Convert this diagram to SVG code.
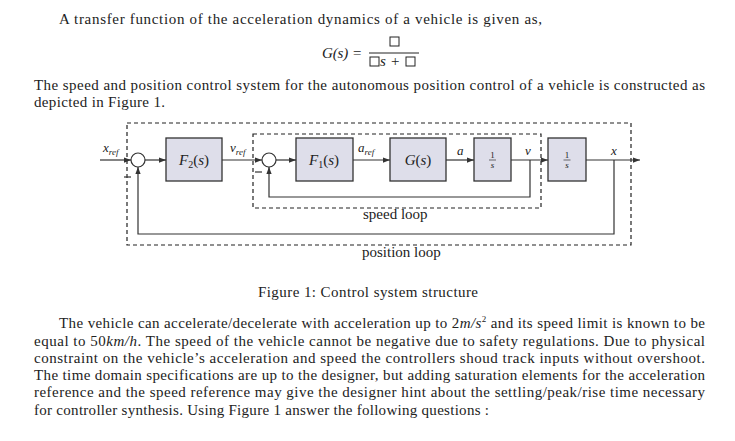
<svg xmlns="http://www.w3.org/2000/svg" width="735" height="441" viewBox="0 0 735 441">
<defs>
<style>
text{font-family:"Liberation Serif","DejaVu Serif",serif;font-size:15px;fill:#222}
.m{font-style:italic;font-size:13px}
.blk{fill:#dedeea;stroke:#333;stroke-width:1.3}
.ln{fill:none;stroke:#333;stroke-width:1.2}
.ds{fill:none;stroke:#222;stroke-width:1.2;stroke-dasharray:4,3}
.sq{fill:none;stroke:#222;stroke-width:1}
</style>
<marker id="ar" viewBox="0 0 8 6" refX="8" refY="3" markerWidth="6" markerHeight="5" orient="auto"><path d="M0,0L8,3L0,6z" fill="#333"/></marker>
</defs>
<rect width="735" height="441" fill="#fff"/>
<text x="59" y="24" textLength="483" lengthAdjust="spacing">A transfer function of the acceleration dynamics of a vehicle is given as,</text>
<text x="322" y="58" font-style="italic" textLength="40" lengthAdjust="spacing">G(s) =</text>
<rect class="sq" x="390" y="37" width="9" height="9"/>
<line x1="369" y1="53" x2="419" y2="53" stroke="#222" stroke-width="1"/>
<rect class="sq" x="370" y="57" width="9" height="9"/>
<text x="380" y="66" font-style="italic">s</text>
<text x="391" y="66">+</text>
<rect class="sq" x="406" y="57" width="9" height="9"/>
<text x="34" y="90" textLength="671" lengthAdjust="spacing">The speed and position control system for the autonomous position control of a vehicle is constructed as</text>
<text x="34" y="107" textLength="131" lengthAdjust="spacing">depicted in Figure 1.</text>
<g id="loops">
<rect class="ds" x="127" y="123" width="504" height="122"/>
<rect class="ds" x="253" y="134" width="288" height="74"/>
<text x="363" y="219">speed loop</text>
<text x="362" y="257">position loop</text>
</g>
<g id="connectors">
<line class="ln" x1="100" y1="160" x2="131" y2="160" marker-end="url(#ar)"/>
<line class="ln" x1="145" y1="160" x2="166" y2="160" marker-end="url(#ar)"/>
<line class="ln" x1="222" y1="160" x2="262" y2="160" marker-end="url(#ar)"/>
<line class="ln" x1="276" y1="160" x2="296" y2="160" marker-end="url(#ar)"/>
<line class="ln" x1="353" y1="160" x2="390" y2="160" marker-end="url(#ar)"/>
<line class="ln" x1="446" y1="160" x2="474" y2="160" marker-end="url(#ar)"/>
<line class="ln" x1="511" y1="160" x2="548" y2="160" marker-end="url(#ar)"/>
<line class="ln" x1="586" y1="160" x2="640" y2="160" marker-end="url(#ar)"/>
<polyline class="ln" points="530,160 530,197 269,197 269,167" marker-end="url(#ar)"/>
<polyline class="ln" points="614,160 614,234 138,234 138,167" marker-end="url(#ar)"/>
<line class="ln" x1="124" y1="177" x2="131" y2="177"/>
<line class="ln" x1="255" y1="172" x2="262" y2="172"/>
</g>
<g id="sum1"><circle class="ln" cx="138" cy="160" r="7" fill="#fff"/></g>
<g id="sum2"><circle class="ln" cx="269" cy="160" r="7" fill="#fff"/></g>
<g id="F2"><rect class="blk" x="166" y="138" width="56" height="43"/><text x="194" y="165" text-anchor="middle" font-style="italic">F<tspan font-style="normal" font-size="10" dy="3">2</tspan><tspan dy="-3" font-style="normal">(</tspan>s<tspan font-style="normal">)</tspan></text></g>
<g id="F1"><rect class="blk" x="296" y="138" width="57" height="43"/><text x="324" y="165" text-anchor="middle" font-style="italic">F<tspan font-style="normal" font-size="10" dy="3">1</tspan><tspan dy="-3" font-style="normal">(</tspan>s<tspan font-style="normal">)</tspan></text></g>
<g id="G"><rect class="blk" x="390" y="138" width="56" height="43"/><text x="418" y="165" text-anchor="middle" font-style="italic">G<tspan font-style="normal">(</tspan>s<tspan font-style="normal">)</tspan></text></g>
<g id="I1"><rect class="blk" x="474" y="138" width="37" height="43"/><text x="492.5" y="157.5" text-anchor="middle" style="font-size:9px">1</text><line x1="489" y1="160" x2="496" y2="160" stroke="#333" stroke-width="0.7"/><text x="492.5" y="167.5" text-anchor="middle" font-style="italic" style="font-size:9px">s</text></g>
<g id="I2"><rect class="blk" x="548" y="138" width="38" height="43"/><text x="567" y="157.5" text-anchor="middle" style="font-size:9px">1</text><line x1="563.5" y1="160" x2="570.5" y2="160" stroke="#333" stroke-width="0.7"/><text x="567" y="167.5" text-anchor="middle" font-style="italic" style="font-size:9px">s</text></g>
<g id="labels">
<text x="103" y="152" class="m">x<tspan font-size="9" dy="3">ref</tspan></text>
<text x="230" y="152" class="m">v<tspan font-size="9" dy="3">ref</tspan></text>
<text x="358" y="152" class="m">a<tspan font-size="9" dy="3">ref</tspan></text>
<text x="457" y="155" class="m">a</text>
<text x="525" y="155" class="m">v</text>
<text x="611" y="155" class="m">x</text>
</g>
<text x="258" y="297" textLength="220" lengthAdjust="spacing">Figure 1: Control system structure</text>
<text x="59" y="328" textLength="646" lengthAdjust="spacing">The vehicle can accelerate/decelerate with acceleration up to 2<tspan font-style="italic">m/s</tspan><tspan font-size="9" dy="-6">2</tspan><tspan dy="6"> and its speed limit is known to be</tspan></text>
<text x="34" y="346" textLength="671" lengthAdjust="spacing">equal to 50<tspan font-style="italic">km/h</tspan>. The speed of the vehicle cannot be negative due to safety regulations. Due to physical</text>
<text x="34" y="363" textLength="671" lengthAdjust="spacing">constraint on the vehicle’s acceleration and speed the controllers shoud track inputs without overshoot.</text>
<text x="34" y="380" textLength="671" lengthAdjust="spacing">The time domain specifications are up to the designer, but adding saturation elements for the acceleration</text>
<text x="34" y="397" textLength="671" lengthAdjust="spacing">reference and the speed reference may give the designer hint about the settling/peak/rise time necessary</text>
<text x="34" y="415" textLength="455" lengthAdjust="spacing">for controller synthesis. Using Figure 1 answer the following questions :</text>
</svg>
